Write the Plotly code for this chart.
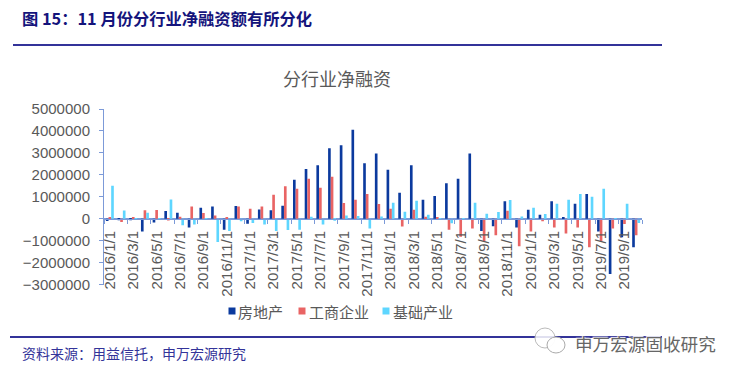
import plotly.graph_objects as go

months = ["2016/1/1","2016/2/1","2016/3/1","2016/4/1","2016/5/1","2016/6/1","2016/7/1","2016/8/1","2016/9/1","2016/10/1","2016/11/1","2016/12/1",
          "2017/1/1","2017/2/1","2017/3/1","2017/4/1","2017/5/1","2017/6/1","2017/7/1","2017/8/1","2017/9/1","2017/10/1","2017/11/1","2017/12/1",
          "2018/1/1","2018/2/1","2018/3/1","2018/4/1","2018/5/1","2018/6/1","2018/7/1","2018/8/1","2018/9/1","2018/10/1","2018/11/1","2018/12/1",
          "2019/1/1","2019/2/1","2019/3/1","2019/4/1","2019/5/1","2019/6/1","2019/7/1","2019/8/1","2019/9/1","2019/10/1"]
real_estate = [-100000,-70000,-70000,-580000,-170000,350000,270000,-400000,500000,550000,-500000,580000,
               -230000,420000,380000,590000,1770000,2260000,2440000,3210000,3350000,4050000,2530000,2970000,
               2230000,1180000,2440000,860000,1030000,1620000,1820000,2970000,-560000,-350000,800000,-400000,
               410000,180000,800000,50000,680000,1120000,-580000,-2520000,-850000,-1300000]
industry = [50000,-150000,80000,380000,400000,-80000,90000,560000,260000,150000,50000,550000,
            450000,550000,1090000,1480000,1360000,1820000,1410000,1910000,710000,860000,1120000,670000,
            450000,-360000,410000,90000,70000,-500000,-820000,-450000,-1030000,-760000,360000,-1260000,
            -580000,-120000,-400000,-670000,-400000,-1300000,-1030000,-450000,-240000,-760000]
infrastructure = [1500000,370000,20000,270000,-30000,880000,-300000,-260000,-20000,-1060000,-560000,-120000,
                  -200000,-270000,-560000,-520000,-500000,90000,-260000,-90000,150000,120000,-450000,100000,
                  730000,320000,820000,180000,-30000,-210000,-30000,730000,230000,300000,850000,100000,
                  500000,210000,680000,860000,1120000,1000000,1360000,-20000,680000,-200000]
y_ticks = [-3000000,-2000000,-1000000,0,1000000,2000000,3000000,4000000,5000000]
series_names = ["房地产", "工商企业", "基础产业"]
series_colors = ["#0b3a9e", "#e96464", "#5ed6ff"]

W, H = 739, 375
FONT = "Liberation Sans, Noto Sans CJK SC, sans-serif"
CJK = "Noto Sans CJK SC"
GRAY = "#595959"
AXIS = "#7c9ad8"
NAVY = "#14147c"
LINE = "#333399"

def px(x): return x / W
def py(y): return 1 - y / H

fig = go.Figure()
for name, vals, col in zip(series_names, [real_estate, industry, infrastructure], series_colors):
    fig.add_trace(go.Bar(x=months, y=vals, name=name, marker=dict(color=col, line=dict(width=0))))

def paper_text(text, x, y, size, color, anchor="left", **font):
    return dict(text=text, x=px(x), y=py(y), xref="paper", yref="paper", xanchor=anchor, yanchor="middle",
                showarrow=False, xshift=0, borderpad=0, borderwidth=0,
                font=dict(family=CJK, size=size, color=color, **font))

shapes = [
    dict(type="line", xref="paper", yref="paper", x0=px(13), x1=px(662), y0=py(45), y1=py(45), line=dict(color=LINE, width=2)),
    dict(type="line", xref="paper", yref="paper", x0=px(10), x1=px(662), y0=py(337), y1=py(337), line=dict(color=LINE, width=2)),
    dict(type="circle", xref="paper", yref="paper", x0=px(535), x1=px(555), y0=py(348), y1=py(328), line=dict(color="#bbbbbb", width=1), fillcolor="rgba(255,255,255,0.85)"),
    dict(type="circle", xref="paper", yref="paper", x0=px(547), x1=px(565), y0=py(353), y1=py(337), line=dict(color="#aaaaaa", width=1), fillcolor="rgba(255,255,255,0.95)"),
]
legend_marks = [232, 302, 386]
legend_texts = [238, 309, 393]
for mx, col in zip(legend_marks, series_colors):
    shapes.append(dict(type="rect", xref="paper", yref="paper", x0=px(mx - 3.5), x1=px(mx + 3.5), y0=py(314.5), y1=py(307.5),
                       line=dict(width=0), fillcolor=col))

annotations = [
    paper_text("<b>图 15：11 月份分行业净融资额有所分化</b>", 22, 18, 16.3, NAVY),
    paper_text("分行业净融资", 337, 78, 18, GRAY, anchor="center"),
    paper_text("资料来源：用益信托，申万宏源研究", 22, 353, 14, LINE),
    paper_text("申万宏源固收研究", 575, 343, 17.6, "#666666", shadow="1px 1px 1px white, -1px -1px 1px white"),
]
for tx, name in zip(legend_texts, series_names):
    annotations.append(paper_text(name, tx, 311, 15, GRAY))

fig.update_layout(
    width=W, height=H, margin=dict(l=0, r=0, t=0, b=0, autoexpand=False),
    paper_bgcolor="white", plot_bgcolor="white",
    barmode="group", bargap=0.32, bargroupgap=0,
    font=dict(family=FONT, color=GRAY, size=15),
    showlegend=False,
    shapes=shapes, annotations=annotations,
    xaxis=dict(type="category", domain=[px(104), px(642)], anchor="free", position=py(219),
               categoryorder="array", categoryarray=months,
               tickmode="linear", tick0=0, dtick=2, tickson="boundaries",
               ticks="outside", ticklen=4, tickcolor=AXIS, tickangle=-90,
               showline=True, linecolor=AXIS, linewidth=1, showgrid=False, zeroline=False,
               ticklabelstandoff=5, ticklabeloverflow="allow", tickfont=dict(size=15, color=GRAY)),
    yaxis=dict(domain=[py(284.5), py(109)], range=[-3000000, 5000000], tickmode="array", tickvals=y_ticks,
               tickformat="d", ticks="outside", ticklen=4, tickcolor=AXIS, showline=True, linecolor=AXIS,
               linewidth=1, showgrid=False, zeroline=True, zerolinecolor=AXIS, zerolinewidth=1,
               ticklabelstandoff=6, ticklabeloverflow="allow", tickfont=dict(size=15, color=GRAY)),
)

fig.write_html("out.html", config={"displayModeBar": False}, post_script="document.body.style.margin='0';")
